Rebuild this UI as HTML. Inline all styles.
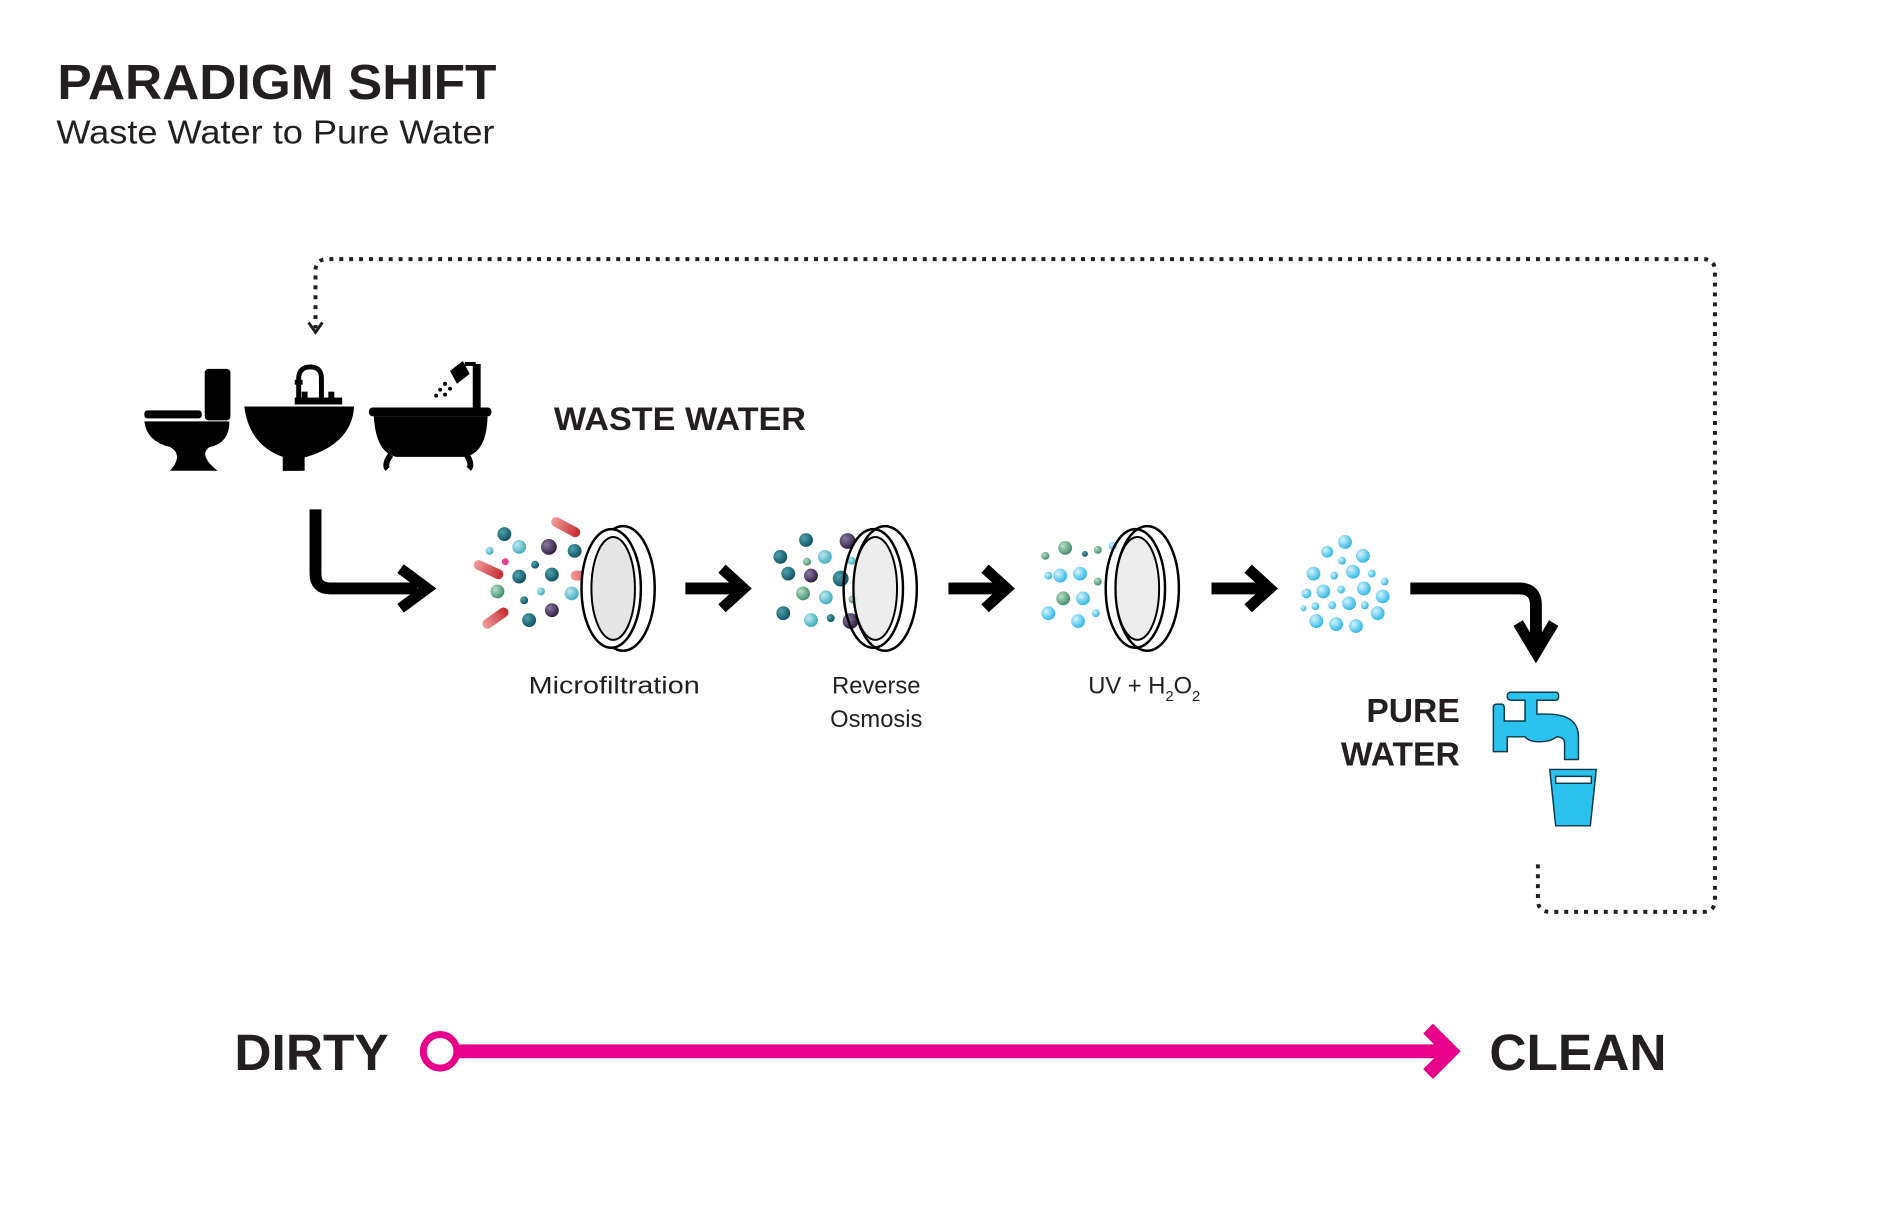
<!DOCTYPE html>
<html><head><meta charset="utf-8"><style>html,body{margin:0;padding:0;background:#fff}svg{display:block}</style></head>
<body>
<svg width="1900" height="1229" viewBox="0 0 1900 1229" xmlns="http://www.w3.org/2000/svg" font-family="Liberation Sans, sans-serif">
<defs>
<radialGradient id="gt" cx="35%" cy="35%" r="70%"><stop offset="0" stop-color="#4fa3ad"/><stop offset="1" stop-color="#0d4f5e"/></radialGradient>
<radialGradient id="gc" cx="35%" cy="35%" r="70%"><stop offset="0" stop-color="#bfe9ef"/><stop offset="1" stop-color="#3aa9bb"/></radialGradient>
<radialGradient id="gp" cx="35%" cy="35%" r="70%"><stop offset="0" stop-color="#8a7aa0"/><stop offset="1" stop-color="#2c1a3d"/></radialGradient>
<radialGradient id="gg" cx="35%" cy="35%" r="70%"><stop offset="0" stop-color="#b6e0c6"/><stop offset="1" stop-color="#3f8a6a"/></radialGradient>
<radialGradient id="gb" cx="35%" cy="35%" r="70%"><stop offset="0" stop-color="#d6f3fc"/><stop offset="1" stop-color="#29b6e8"/></radialGradient>
<linearGradient id="gr" x1="0" y1="0" x2="1" y2="0"><stop offset="0" stop-color="#f2a0a0"/><stop offset="1" stop-color="#c4262e"/></linearGradient>
</defs>
<g transform="scale(0.989)">
<!-- Title -->
<text x="58" y="100" font-size="50" font-weight="bold" fill="#231f20" textLength="444" lengthAdjust="spacingAndGlyphs">PARADIGM SHIFT</text>
<text x="57" y="145" font-size="34" fill="#231f20" textLength="443" lengthAdjust="spacingAndGlyphs">Waste Water to Pure Water</text>

<!-- dotted loop -->
<path d="M1555 874 V910 Q1555 922 1567 922 H1722 Q1734 922 1734 910 V274 Q1734 262 1722 262 H331 Q319 262 319 274 V332" fill="none" stroke="#231f20" stroke-width="4" stroke-dasharray="4 6"/>
<path d="M312 326 L319 336 L326 326" fill="none" stroke="#231f20" stroke-width="3"/>

<!-- toilet -->
<g fill="#000">
<rect x="207" y="373" width="26" height="52" rx="4"/>
<rect x="146" y="415" width="58" height="8" rx="3"/>
<path d="M146 426 H232 Q232 448 212 452 Q200 460 220 476 H172 Q186 460 172 452 Q148 446 146 426Z"/>
<!-- sink -->
<path d="M247 411 H358 Q356 448 310 462 L302 464 V476 H307 L282 476 H307 V476 H286 V462 Q252 450 247 411Z"/>
<rect x="286" y="458" width="22" height="18"/>
<path d="M302 407 V383 Q302 371 314 371 Q325 371 325 383 V407" fill="none" stroke="#000" stroke-width="5"/>
<rect x="298" y="402" width="48" height="7"/><rect x="305" y="396" width="6" height="8"/><rect x="332" y="396" width="6" height="8"/>
<rect x="298" y="384" width="8" height="5"/>
<!-- tub -->
<rect x="373" y="412" width="124" height="9" rx="4"/>
<path d="M378 421 H493 Q492 458 470 462 H401 Q380 458 378 421Z"/>
<path d="M395 460 Q388 470 392 474 M472 460 Q478 470 474 474" fill="none" stroke="#000" stroke-width="6"/>
<path d="M478 412 V368 H486 V412" />
<path d="M481 368 H470" stroke="#000" stroke-width="4"/>
<path d="M455 375 L468 365 L475 378 L462 388Z"/>
<g fill="#000"><circle cx="450" cy="388" r="2"/><circle cx="455" cy="393" r="2"/><circle cx="445" cy="394" r="2"/><circle cx="450" cy="399" r="2"/><circle cx="441" cy="400" r="2"/></g>
</g>

<text x="560" y="435" font-size="33" font-weight="bold" fill="#231f20" textLength="255" lengthAdjust="spacingAndGlyphs">WASTE WATER</text>

<!-- elbow arrow -->
<path d="M319 515 V580 Q319 595 334 595 H422" fill="none" stroke="#000" stroke-width="12"/>
<path d="M405 575 L432 595 L405 615" fill="none" stroke="#000" stroke-width="11"/>

<!-- filter1 particles -->
<g>
<rect x="556" y="528" width="32" height="10" rx="5" fill="url(#gr)" transform="rotate(28 572 533)"/>
<rect x="478" y="571" width="32" height="10" rx="5" fill="url(#gr)" transform="rotate(25 494 576)"/>
<rect x="486" y="620" width="30" height="10" rx="5" fill="url(#gr)" transform="rotate(-35 501 625)"/>
<rect x="577" y="577" width="30" height="10" rx="5" fill="url(#gr)"/>
<circle cx="510" cy="540" r="7" fill="url(#gt)"/><circle cx="525" cy="553" r="7" fill="url(#gc)"/>
<circle cx="555" cy="553" r="8" fill="url(#gp)"/><circle cx="581" cy="557" r="7" fill="url(#gt)"/>
<circle cx="495" cy="557" r="4" fill="url(#gc)"/><circle cx="511" cy="568" r="3.5" fill="#e4418f"/>
<circle cx="541" cy="571" r="4" fill="url(#gt)"/><circle cx="525" cy="583" r="7" fill="url(#gt)"/>
<circle cx="558" cy="581" r="7" fill="url(#gt)"/><circle cx="503" cy="598" r="7" fill="url(#gg)"/>
<circle cx="547" cy="598" r="4" fill="url(#gc)"/><circle cx="578" cy="600" r="7" fill="url(#gc)"/>
<circle cx="530" cy="607" r="4" fill="url(#gt)"/><circle cx="558" cy="617" r="7" fill="url(#gp)"/>
<circle cx="535" cy="627" r="7" fill="url(#gt)"/><circle cx="594" cy="616" r="4" fill="#e4418f"/>
</g>
<g fill="none" stroke="#000" stroke-width="2.5">
<ellipse cx="630" cy="595" rx="32" ry="63" fill="#fff"/>
<ellipse cx="618" cy="595" rx="30" ry="60" fill="#fff"/>
<ellipse cx="620" cy="595" rx="22" ry="52" fill="#e6e6e6" stroke-width="2"/>
</g>

<!-- arrows -->
<g stroke="#000" fill="none">
<path d="M693 595 H752" stroke-width="12"/><path d="M730 575 L752 595 L730 615" stroke-width="11"/>
<path d="M959 595 H1018" stroke-width="12"/><path d="M996 575 L1018 595 L996 615" stroke-width="11"/>
<path d="M1225 595 H1284" stroke-width="12"/><path d="M1262 575 L1284 595 L1262 615" stroke-width="11"/>
</g>

<!-- filter2 particles -->
<g>
<circle cx="789" cy="563" r="7" fill="url(#gt)"/><circle cx="815" cy="546" r="7" fill="url(#gt)"/>
<circle cx="816" cy="568" r="4" fill="url(#gg)"/><circle cx="834" cy="563" r="7" fill="url(#gc)"/>
<circle cx="797" cy="580" r="7" fill="url(#gt)"/><circle cx="820" cy="582" r="7" fill="url(#gp)"/>
<circle cx="812" cy="600" r="7" fill="url(#gg)"/><circle cx="835" cy="604" r="7" fill="url(#gc)"/>
<circle cx="792" cy="620" r="7" fill="url(#gt)"/><circle cx="820" cy="627" r="7" fill="url(#gc)"/>
<circle cx="840" cy="625" r="4" fill="url(#gt)"/>
<circle cx="857" cy="547" r="8" fill="url(#gp)"/><circle cx="861" cy="567" r="4" fill="url(#gc)"/>
<circle cx="850" cy="585" r="8" fill="url(#gt)"/><circle cx="862" cy="606" r="4" fill="url(#gg)"/>
<circle cx="860" cy="628" r="8" fill="url(#gp)"/>
</g>
<g fill="none" stroke="#000" stroke-width="2.5">
<ellipse cx="895" cy="595" rx="32" ry="63"/>
<ellipse cx="883" cy="595" rx="30" ry="60"/>
<ellipse cx="885" cy="595" rx="22" ry="52" fill="#e6e6e6" fill-opacity="0.7" stroke-width="2"/>
</g>

<!-- filter3 particles -->
<g>
<circle cx="1057" cy="562" r="4" fill="url(#gg)"/><circle cx="1077" cy="554" r="7" fill="url(#gg)"/>
<circle cx="1097" cy="560" r="3" fill="url(#gt)"/><circle cx="1060" cy="582" r="4" fill="url(#gb)"/>
<circle cx="1072" cy="582" r="7" fill="url(#gb)"/><circle cx="1092" cy="580" r="7" fill="url(#gb)"/>
<circle cx="1075" cy="605" r="7" fill="url(#gg)"/><circle cx="1095" cy="605" r="7" fill="url(#gb)"/>
<circle cx="1060" cy="620" r="7" fill="url(#gb)"/><circle cx="1090" cy="628" r="7" fill="url(#gb)"/>
<circle cx="1110" cy="556" r="4" fill="url(#gg)"/><circle cx="1110" cy="588" r="4" fill="url(#gg)"/>
<circle cx="1108" cy="620" r="4" fill="url(#gb)"/><circle cx="1125" cy="552" r="4" fill="url(#gb)"/>
</g>
<g fill="none" stroke="#000" stroke-width="2.5">
<ellipse cx="1160" cy="595" rx="32" ry="63"/>
<ellipse cx="1148" cy="595" rx="30" ry="60"/>
<ellipse cx="1150" cy="595" rx="22" ry="52" fill="#e6e6e6" fill-opacity="0.7" stroke-width="2"/>
</g>

<g transform="translate(16,0)">
<!-- pure cluster -->
<g fill="url(#gb)">
<circle cx="1326" cy="558" r="6"/><circle cx="1344" cy="548" r="7"/><circle cx="1362" cy="562" r="7"/><circle cx="1341" cy="567" r="4"/>
<circle cx="1312" cy="580" r="7"/><circle cx="1333" cy="582" r="4"/><circle cx="1352" cy="578" r="7"/><circle cx="1371" cy="580" r="4"/><circle cx="1384" cy="588" r="4"/>
<circle cx="1305" cy="600" r="5"/><circle cx="1322" cy="598" r="7"/><circle cx="1340" cy="596" r="4"/><circle cx="1363" cy="595" r="7"/><circle cx="1382" cy="603" r="7"/>
<circle cx="1314" cy="613" r="4"/><circle cx="1331" cy="612" r="4"/><circle cx="1348" cy="610" r="7"/><circle cx="1364" cy="612" r="4"/>
<circle cx="1315" cy="628" r="7"/><circle cx="1335" cy="631" r="7"/><circle cx="1355" cy="633" r="7"/><circle cx="1377" cy="620" r="7"/><circle cx="1302" cy="615" r="3"/>
</g>

<!-- bent arrow -->
<path d="M1410 595 H1520 Q1537 595 1537 612 V650" fill="none" stroke="#000" stroke-width="12"/>
<path d="M1519 630 L1537 660 L1555 630" fill="none" stroke="#000" stroke-width="11"/>

<g font-size="34" font-weight="bold" fill="#231f20" text-anchor="end">
<text x="1460" y="730">PURE</text>
<text x="1460" y="774">WATER</text>
</g>

<!-- faucet -->
<g fill="#2bc3ee" stroke="#0d3a48" stroke-width="1.5">
<path d="M1510 700 H1557 Q1560 700 1560 704 Q1560 708 1557 708 H1538 V722 H1548 Q1580 722 1580 745 V768 H1566 V752 Q1566 745 1558 745 Q1552 750 1540 750 Q1530 750 1526 745 H1508 V760 H1494 V715 Q1494 712 1498 712 H1502 Q1505 712 1505 716 V729 H1526 V708 H1512 Q1508 708 1508 704 Q1508 700 1512 700Z"/>
<path d="M1551 778 H1598 L1592 835 H1557Z"/>
<rect x="1557" y="785" width="36" height="7" fill="#fff"/>
</g>
</g>

<!-- labels -->
<g font-size="24" fill="#231f20" text-anchor="middle">
<text x="621" y="701" textLength="173" lengthAdjust="spacingAndGlyphs">Microfiltration</text>
<text x="886" y="701">Reverse</text>
<text x="886" y="735">Osmosis</text>
<text x="1157" y="701" text-anchor="middle">UV + H<tspan font-size="15" dy="8">2</tspan><tspan dy="-8">O</tspan><tspan font-size="15" dy="8">2</tspan></text>
</g>

<!-- dirty clean -->
<text x="237" y="1082" font-size="52" font-weight="bold" fill="#231f20" textLength="156" lengthAdjust="spacingAndGlyphs">DIRTY</text>
<text x="1506" y="1082" font-size="52" font-weight="bold" fill="#231f20" textLength="179" lengthAdjust="spacingAndGlyphs">CLEAN</text>
<line x1="462" y1="1063" x2="1460" y2="1063" stroke="#e6008a" stroke-width="14"/>
<circle cx="445" cy="1063" r="17" fill="#fff" stroke="#e6008a" stroke-width="7"/>
<path d="M1444 1040 L1467 1063 L1444 1086" fill="none" stroke="#e6008a" stroke-width="14"/>
</g>
</svg>
</body></html>
